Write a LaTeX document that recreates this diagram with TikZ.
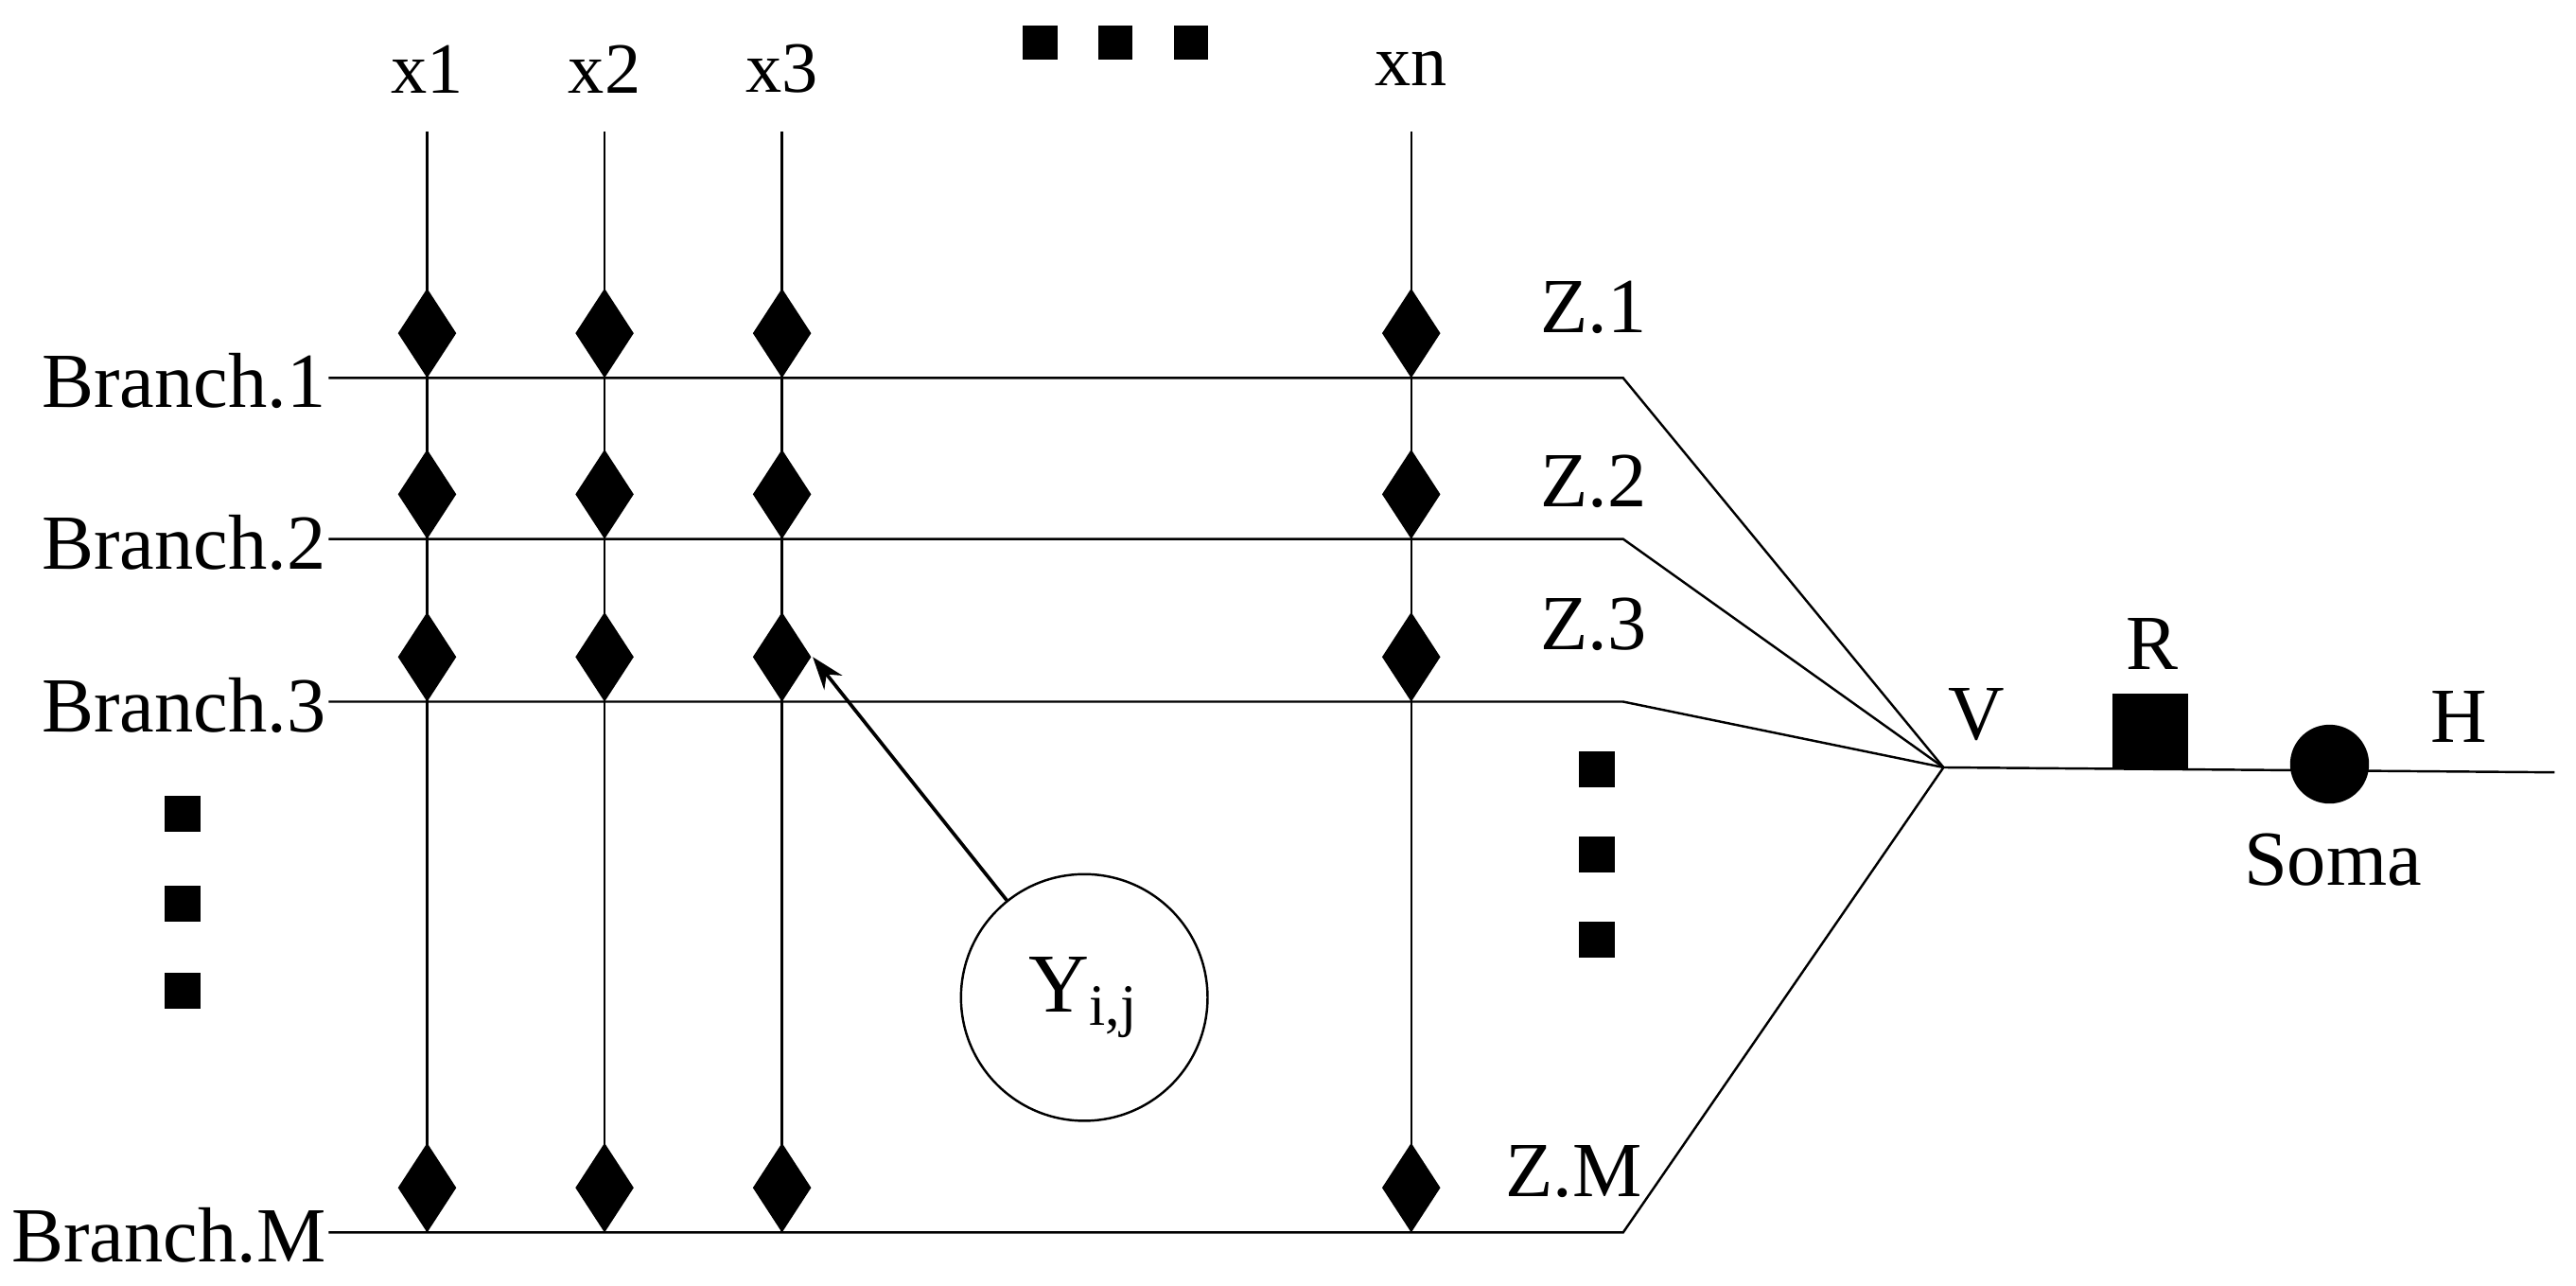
\documentclass[tikz,border=0pt]{standalone}
\usepackage{fontspec}
\setmainfont{Liberation Serif}
\usetikzlibrary{shapes.geometric,arrows.meta}
\begin{document}
\begin{tikzpicture}[x=0.01cm,y=-0.01cm,
 dia/.style={diamond,fill=black,inner sep=0pt,minimum width=0.36cm,minimum height=0.55cm,anchor=south},
 sq/.style={rectangle,fill=black,inner sep=0pt,minimum size=#1},
 lab/.style={font=\fontsize{13.5}{16}\selectfont,inner sep=0pt},
 top/.style={font=\fontsize{12.5}{15}\selectfont,inner sep=0pt}]
\useasboundingbox (0,0) rectangle (1568,782);
% columns
\foreach \n/\x/\t in {c1/260/x1,c2/368/x2,c3/476/x3,cn/859/xn}{
 \coordinate (\n t) at (\x,80); \coordinate (\n b) at (\x,750);
 \draw (\n t) -- (\n b);
 \node[top] (\n l) at (\x,42) {\t};
}
\foreach \i/\y in {1/230,2/328,3/427,M/750}{
 \coordinate (b\i s) at (200,\y); \coordinate (b\i e) at (988,\y);
 \node[lab,anchor=east] (bl\i) at (199,\y+2) {Branch.\i};
 \foreach \n/\x in {c1/260,c2/368,c3/476,cn/859}{ \node[dia] (d\n\i) at (\x,\y+1) {}; }
}
\coordinate (V) at (1183,467);
\foreach \i in {1,2,3,M}{ \draw (b\i s) -- (b\i e) -- (V); }
\node[lab] (z1) at (970,187) {Z.1};
\node[lab] (z2) at (970,293) {Z.2};
\node[lab] (z3) at (970,380) {Z.3};
\node[lab] (zM) at (958,713) {Z.M};
\foreach \x/\k in {633/a,679/b,725/c}{\node[sq=0.21cm] (ts\k) at (\x,26) {};}
\foreach \y/\k in {495/a,550/b,603/c}{\node[sq=0.22cm] (ls\k) at (111,\y) {};}
\foreach \y/\k in {468/a,520/b,572/c}{\node[sq=0.22cm] (rs\k) at (972,\y) {};}
\node[circle,draw,minimum size=1.5cm,inner sep=0pt,font=\fontsize{14.5}{17}\selectfont] (Y) at (660,607) {Y\textsubscript{i,j}};
\draw[-{Stealth[length=0.2cm,width=0.14cm]},semithick] (Y) -- (dc33.east);
\coordinate (Hend) at (1555,470);
\draw (V) -- (Hend);
\node[lab] (Vl) at (1203,435) {V};
\node[sq=0.46cm] (R) at (1309,445) {};
\node[lab] (Rl) at (1310,392) {R};
\node[circle,fill=black,minimum size=0.48cm,inner sep=0pt] (soma) at (1418,465) {};
\node[lab] (sl) at (1420,523) {Soma};
\node[lab] (Hl) at (1497,436) {H};
\end{tikzpicture}
\end{document}
